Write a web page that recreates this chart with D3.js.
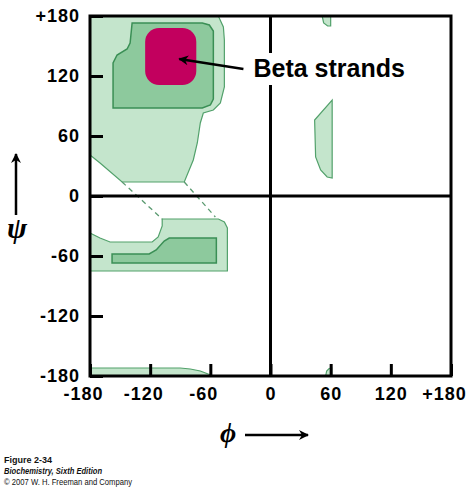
<!DOCTYPE html>
<html>
<head>
<meta charset="utf-8">
<script src="https://cdn.jsdelivr.net/npm/d3@7"></script>
<style>
  body { margin: 0; background: #fff; }
  svg { display: block; font-family: "Liberation Sans", Arial, sans-serif; }
</style>
</head>
<body>
<script>
// tick values and labels (phi / psi in degrees)
var tickValues = [-180, -120, -60, 0, 60, 120, 180];
var tickLabels = ["-180", "-120", "-60", "0", "60", "120", "+180"];

// allowed regions, [phi, psi] outlines
var betaOuter = [[-180, 180], [-52, 180], [-47, 169], [-46, 156], [-46, 109], [-50, 93], [-57, 86],
    [-67, 83], [-70, 73], [-73, 53], [-77, 36], [-86, 14], [-148, 14], [-170, 33], [-180, 41]];
var betaInner = [[-138, 173], [-68, 173], [-61, 171], [-57, 165], [-57, 97], [-60, 91], [-68, 88],
    [-157, 88], [-157, 133], [-153, 141], [-143, 147], [-140, 153], [-138, 173]];
var betaCore = [-125, -74, 111, 168]; // phi0, phi1, psi0, psi1

var alphaOuter = [[-180, -37], [-170, -42], [-160, -46], [-118, -46], [-112, -41], [-108, -30],
    [-108, -23], [-52, -23], [-46, -26], [-43, -32], [-43, -75], [-180, -75]];
var alphaInner = [[-158, -58], [-121, -58], [-114, -54], [-106, -45], [-101, -42], [-54, -42],
    [-54, -67], [-158, -67]];

var leftHanded = [[61.5, 96], [61.5, 18], [56.5, 19], [50, 26], [45, 39], [44, 76]];
var leftTop = [[51.5, 180], [53, 173], [57, 170], [60, 170], [60, 180]];
var leftBottom = [[55, -180], [56, -175], [58.5, -172.5], [61, -172], [61, -180]];
var bottomStrip = [[-180, -180], [-180, -172], [-90, -172], [-80, -173], [-70, -175], [-57, -180]];

var bridgeLines = [
    [[-148, 14], [-108, -23]],
    [[-86, 14], [-55, -21]]
];

// annotation
var betaLabel = "Beta strands";
var betaArrow = [[-27, 127], [-91, 137]];
var betaText = [-17, 119];

var margin = {top: 16, right: 23, bottom: 112, left: 90};
var width = 474 - margin.left - margin.right,
    height = 488 - margin.top - margin.bottom;

var svg = d3.select("body")
    .append("svg")
    .attr("width", width + margin.left + margin.right)
    .attr("height", height + margin.top + margin.bottom);

var defs = svg.append("defs");
defs.append("marker")
    .attr("id", "head")
    .attr("viewBox", "0 0 10 10")
    .attr("refX", 9).attr("refY", 5)
    .attr("markerWidth", 5).attr("markerHeight", 4)
    .attr("markerUnits", "strokeWidth")
    .attr("orient", "auto")
    .append("path")
    .attr("d", "M0,0L10,5L0,10L3,5Z")
    .attr("fill", "#000");

var g = svg.append("g")
    .attr("transform", "translate(" + margin.left + "," + margin.top + ")");

var x = d3.scaleLinear().domain([-180, 180]).range([0, width]);
var y = d3.scaleLinear().domain([-180, 180]).range([height, 0]);

var line = d3.line()
    .x(function(d) { return x(d[0]); })
    .y(function(d) { return y(d[1]); })
    .curve(d3.curveLinearClosed);

var openLine = d3.line()
    .x(function(d) { return x(d[0]); })
    .y(function(d) { return y(d[1]); });

var lightFill = "#c4e5cc", lightStroke = "#52a16b";
var darkFill = "#8dc99d", darkStroke = "#3a8f55";

// light regions
g.selectAll(".light")
    .data([betaOuter, alphaOuter, leftHanded, leftTop, leftBottom, bottomStrip])
    .enter().append("path")
    .attr("class", "light")
    .attr("d", line)
    .attr("fill", lightFill)
    .attr("stroke", lightStroke)
    .attr("stroke-width", 1.2);

// dark regions
g.selectAll(".dark")
    .data([betaInner, alphaInner])
    .enter().append("path")
    .attr("class", "dark")
    .attr("d", line)
    .attr("fill", darkFill)
    .attr("stroke", darkStroke)
    .attr("stroke-width", 1.5);

// beta strand core
g.append("rect")
    .attr("x", x(betaCore[0]))
    .attr("y", y(betaCore[3]))
    .attr("width", x(betaCore[1]) - x(betaCore[0]))
    .attr("height", y(betaCore[2]) - y(betaCore[3]))
    .attr("rx", 14)
    .attr("fill", "#c2005e");

// dashed connections
g.selectAll(".bridge")
    .data(bridgeLines)
    .enter().append("path")
    .attr("class", "bridge")
    .attr("d", openLine)
    .attr("fill", "none")
    .attr("stroke", "#5a9a70")
    .attr("stroke-width", 1.3)
    .attr("stroke-dasharray", "5,4");

// zero lines
g.append("line")
    .attr("x1", x(0)).attr("x2", x(0))
    .attr("y1", 0).attr("y2", height)
    .attr("stroke", "#000").attr("stroke-width", 3);
g.append("line")
    .attr("x1", 0).attr("x2", width)
    .attr("y1", y(0)).attr("y2", y(0))
    .attr("stroke", "#000").attr("stroke-width", 3);

// axes
var fmt = function(d, i) { return tickLabels[i]; };

var yAxis = g.append("g")
    .call(d3.axisLeft(y).tickValues(tickValues).tickFormat(fmt).tickSize(-13).tickPadding(10));
var xAxis = g.append("g")
    .attr("transform", "translate(0," + height + ")")
    .call(d3.axisBottom(x).tickValues(tickValues).tickFormat(fmt).tickSize(-12).tickPadding(11));

[xAxis, yAxis].forEach(function(ax) {
    ax.select(".domain").remove();
    ax.selectAll(".tick line").attr("stroke", "#000").attr("stroke-width", 3);
    ax.selectAll(".tick text")
        .attr("fill", "#000")
        .style("font-family", "'Liberation Sans', Arial, sans-serif")
        .style("font-weight", "bold")
        .style("font-size", "18px")
        .style("letter-spacing", "1px");
});
// center signed labels on the digits
xAxis.selectAll(".tick text")
    .attr("dx", function(d, i) { return /^[-+]/.test(tickLabels[i]) ? -7 : 0; });

// frame
g.append("rect")
    .attr("width", width).attr("height", height)
    .attr("fill", "none")
    .attr("stroke", "#000").attr("stroke-width", 3);

// label for the beta region
g.append("rect")
    .attr("x", x(betaText[0]) - 10)
    .attr("y", y(betaText[1]) - 24)
    .attr("width", 166)
    .attr("height", 32)
    .attr("fill", "#fff");

g.append("text")
    .attr("x", x(betaText[0]))
    .attr("y", y(betaText[1]))
    .style("font-weight", "bold")
    .style("font-size", "25px")
    .text(betaLabel);

g.append("path")
    .attr("d", openLine(betaArrow))
    .attr("stroke", "#000")
    .attr("stroke-width", 2.5)
    .attr("marker-end", "url(#head)");

// psi label
svg.append("line")
    .attr("x1", 16).attr("x2", 16)
    .attr("y1", 215).attr("y2", 154)
    .attr("stroke", "#000").attr("stroke-width", 2.5)
    .attr("marker-end", "url(#head)");
svg.append("text")
    .attr("x", 17).attr("y", 238)
    .attr("text-anchor", "middle")
    .style("font-family", "'Liberation Serif', 'Times New Roman', serif")
    .style("font-style", "italic")
    .style("font-weight", "bold")
    .style("font-size", "30px")
    .text("ψ");

// phi label
svg.append("text")
    .attr("x", 228).attr("y", 442)
    .attr("text-anchor", "middle")
    .style("font-family", "'Liberation Serif', 'Times New Roman', serif")
    .style("font-style", "italic")
    .style("font-weight", "bold")
    .style("font-size", "28px")
    .text("ϕ");
svg.append("line")
    .attr("x1", 245).attr("x2", 308)
    .attr("y1", 435).attr("y2", 435)
    .attr("stroke", "#000").attr("stroke-width", 2.5)
    .attr("marker-end", "url(#head)");

// caption
var caption = svg.append("g").style("font-size", "9px").attr("fill", "#111");
caption.append("text").attr("x", 4).attr("y", 463)
    .style("font-weight", "bold")
    .attr("textLength", 48).attr("lengthAdjust", "spacingAndGlyphs")
    .text("Figure 2-34");
caption.append("text").attr("x", 4).attr("y", 474)
    .style("font-weight", "bold").style("font-style", "italic")
    .attr("textLength", 98).attr("lengthAdjust", "spacingAndGlyphs")
    .text("Biochemistry, Sixth Edition");
caption.append("text").attr("x", 4).attr("y", 485)
    .attr("textLength", 128).attr("lengthAdjust", "spacingAndGlyphs")
    .text("© 2007 W. H. Freeman and Company");
</script>
</body>
</html>
